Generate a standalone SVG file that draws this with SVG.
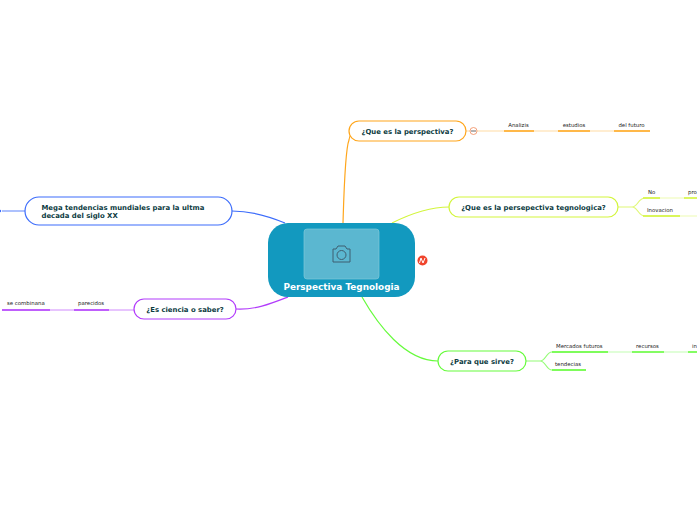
<svg xmlns="http://www.w3.org/2000/svg" width="697" height="520" viewBox="0 0 697 520">
<style>
text{font-family:"DejaVu Sans",Verdana,sans-serif}
.t{font-size:6.9px;font-weight:700;fill:#0c3b3f}
.s{font-size:5.4px;fill:#222}
.n{fill:#fff;stroke-width:1.2}
.c{fill:none;stroke-width:1.2}
.l{fill:none;stroke-width:1;opacity:.4}
.u{fill:none;stroke-width:1.6}
.o{stroke:#ffa61c}.y{stroke:#d3f53c}.g{stroke:#66fb3c}.b{stroke:#3c6cfb}.p{stroke:#b23cfb}
</style>
<g id="connectors">
<path class="c o" d="M343 223C344 190 345 150 349 140Q350 132 356 131"/>
<path class="c y" d="M392 223C410 214 430 207 449 207"/>
<path class="c g" d="M362 297C378 325 405 361 438 361"/>
<path class="c b" d="M285 223C268 216 250 211 232 211"/>
<path class="c p" d="M288 297C270 304 255 310 236 309"/>
<path class="l o" d="M466 131H650"/>
<path class="u o" d="M504 131H534M558 131H590M614 131H650"/>
<path class="c y" style="opacity:.7" d="M618 207H632C638 207 638 198 645 198H660M632 207C638 207 638 216 645 216H680"/>
<path class="l y" d="M660 198H697M680 216H697"/>
<path class="u y" d="M643 198H660M684 198H697M643 216H680"/>
<path class="c g" style="opacity:.7" d="M526 361H540C546 361 546 352 552 352H608M540 361C546 361 546 370 552 370H586"/>
<path class="l g" d="M608 352H697"/>
<path class="u g" d="M552 352H608M632 352H664M688 352H697M552 370H586"/>
<path class="c b" style="opacity:.7" d="M2 211H25"/>
<circle cx="0" cy="211" r="1.200" fill="#3c6cfb"/>
<path class="l p" style="opacity:.6" d="M2 310H134"/>
<path class="u p" d="M2 310H50M74 310H109"/>
</g>
<g id="root">
<rect x="268" y="223" width="147" height="74" rx="20" fill="#1299bf"/>
<rect x="304" y="229" width="75" height="50" rx="3" fill="#5bb7d0" stroke="#7fc8da" stroke-width=".7"/>
<g fill="none" stroke="#3f5f70" stroke-width="1"><path d="M333 249H336L338 246H345L347 249H350V262H333Z"/><circle cx="341.500" cy="255" r="4.500"/></g>
<text x="341.500" y="290" text-anchor="middle" font-size="8.900" font-weight="700" fill="#fff">Perspectiva Tegnologia</text>
</g>
<g id="n1"><rect class="n o" x="349" y="121" width="117" height="20" rx="10"/><text class="t" x="407.500" y="134" text-anchor="middle">¿Que es la perspectiva?</text>
<circle cx="473.500" cy="131" r="3.500" fill="#fff" stroke="#f08a5c" stroke-width=".8"/><path d="M471 131H476" stroke="#666" stroke-width="1"/>
<text class="s" x="518.500" y="127" text-anchor="middle">Analizis</text><text class="s" x="574" y="127" text-anchor="middle">estudios</text><text class="s" x="631.500" y="127" text-anchor="middle">del futuro</text></g>
<g id="n2"><rect class="n y" x="449" y="197" width="169" height="20" rx="10"/><text class="t" x="533.500" y="210" text-anchor="middle">¿Que es la persepectiva tegnologica?</text>
<text class="s" x="648" y="194">No</text><text class="s" x="688" y="194">pro</text><text class="s" x="647" y="212">Inovacion</text></g>
<g id="n3"><rect class="n g" x="438" y="351" width="88" height="20" rx="10"/><text class="t" x="482" y="364" text-anchor="middle">¿Para que sirve?</text>
<text class="s" x="556" y="348">Mercados futuros</text><text class="s" x="636" y="348">recursos</text><text class="s" x="692" y="348">in</text><text class="s" x="555" y="366">tendecias</text></g>
<g id="n4"><rect class="n b" x="25" y="197" width="207" height="28" rx="14"/><text class="t" x="41.500" y="210">Mega tendencias mundiales para la ultma</text><text class="t" x="41.500" y="218">decada del siglo XX</text></g>
<g id="n5"><rect class="n p" x="134" y="299" width="102" height="20" rx="10"/><text class="t" x="185" y="312" text-anchor="middle">¿Es ciencia o saber?</text>
<text class="s" x="7" y="305">se combinana</text><text class="s" x="78" y="305">parecidos</text></g>
<g id="marker"><circle cx="422.500" cy="260.500" r="5" fill="#f0442c"/><path d="M419.500 263L421 258L423 263L425 258" fill="none" stroke="#fff" stroke-width="1"/></g>
</svg>
